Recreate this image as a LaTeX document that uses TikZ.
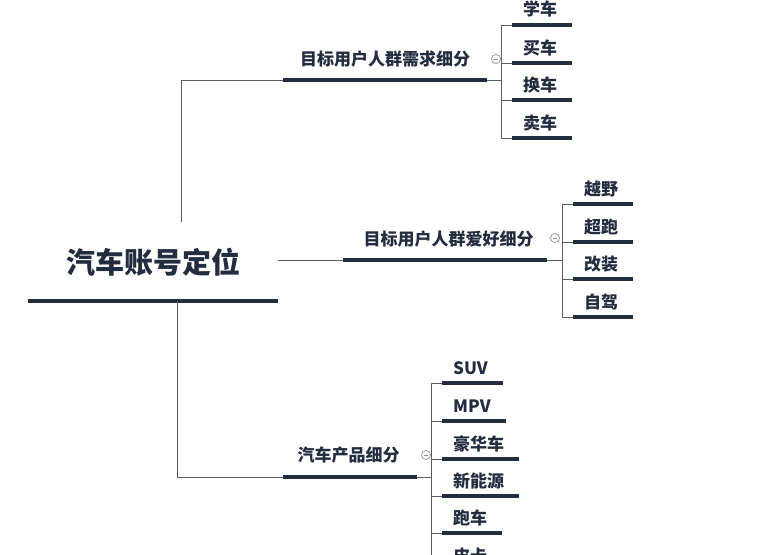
\documentclass[tikz,border=0pt]{standalone}
\usepackage{fontspec}
\newfontfamily\cjk{Noto Sans CJK SC}
\definecolor{navy}{HTML}{222D3F}
\definecolor{conngray}{HTML}{5A5F66}
\definecolor{collgray}{HTML}{8A8F96}
\tikzset{
  under/.style={line width=3.6pt, draw=navy},
  conn/.style={line width=0.9pt, draw=conngray},
  roottxt/.style={font=\cjk\bfseries\fontsize{29}{29}\selectfont, text=navy, inner sep=0pt},
  brtxt/.style={font=\cjk\bfseries\fontsize{17}{17}\selectfont, text=navy, inner sep=0pt},
  coll/.style={circle, draw=collgray, line width=0.7pt, minimum size=9pt, inner sep=0pt, fill=white}
}
\begin{document}
\begin{tikzpicture}[x=1pt,y=-1pt]
\useasboundingbox (0,0) rectangle (783,554);
\clip (0,0) rectangle (783,554);
\fill[white] (0,0) rectangle (783,554);

% root
\node[roottxt, anchor=base] (root) at (153.5,273) {汽车账号定位};
\coordinate (rootL) at (28,301);
\coordinate (rootR) at (278,301);
\draw[under] (rootL) -- (rootR);
\coordinate (rootTop) at (181,222);
\coordinate (rootRight) at (278,260);
\coordinate (rootBot) at (177,301);

% branch 1
\coordinate (b1a) at (283,80);
\coordinate (b1b) at (487,80);
\node[brtxt, anchor=base] (b1) at (385,65) {目标用户人群需求细分};
\draw[conn] (rootTop) |- (b1a);
\draw[under] (b1a) -- (b1b);
\coordinate (v1top) at (501,25);
\coordinate (v1bot) at (501,138);
\draw[conn] (b1b) -- (b1b -| v1top);
\draw[conn] (v1top) -- (v1bot);
\node[coll] (k1) at (496,59) {};
\draw[collgray, line width=0.6pt] ([xshift=-2.2pt]k1.center) -- ([xshift=2.2pt]k1.center);
\foreach \t/\u [count=\i] in {学车/25, 买车/63, 换车/100, 卖车/138}{
  \node[brtxt, anchor=base west] (c1\i) at (523,\u-9) {\t};
  \coordinate (c1s\i) at (512,\u);
  \coordinate (c1e\i) at (572,\u);
  \draw[conn] (v1top |- c1s\i) -- (c1s\i);
  \draw[under] (c1s\i) -- (c1e\i);
}

% branch 2
\coordinate (b2a) at (343,260);
\coordinate (b2b) at (547,260);
\node[brtxt, anchor=base] (b2) at (448.5,245) {目标用户人群爱好细分};
\draw[conn] (rootRight) -- (b2a);
\draw[under] (b2a) -- (b2b);
\coordinate (v2top) at (562,204);
\coordinate (v2bot) at (562,317);
\draw[conn] (b2b) -- (b2b -| v2top);
\draw[conn] (v2top) -- (v2bot);
\node[coll] (k2) at (555,238) {};
\draw[collgray, line width=0.6pt] ([xshift=-2.2pt]k2.center) -- ([xshift=2.2pt]k2.center);
\foreach \t/\u [count=\i] in {越野/204, 超跑/242, 改装/279, 自驾/317}{
  \node[brtxt, anchor=base west] (c2\i) at (584,\u-9) {\t};
  \coordinate (c2s\i) at (573,\u);
  \coordinate (c2e\i) at (633,\u);
  \draw[conn] (v2top |- c2s\i) -- (c2s\i);
  \draw[under] (c2s\i) -- (c2e\i);
}

% branch 3
\coordinate (b3a) at (283,477);
\coordinate (b3b) at (417,477);
\node[brtxt, anchor=base] (b3) at (348.5,461) {汽车产品细分};
\draw[conn] (rootBot) |- (b3a);
\draw[under] (b3a) -- (b3b);
\coordinate (v3top) at (431,383);
\coordinate (v3bot) at (431,600);
\draw[conn] (b3b) -- (b3b -| v3top);
\draw[conn] (v3top) -- (v3bot);
\node[coll] (k3) at (426,455) {};
\draw[collgray, line width=0.6pt] ([xshift=-2.2pt]k3.center) -- ([xshift=2.2pt]k3.center);
\foreach \t/\u [count=\i] in {SUV/383, MPV/421, 豪华车/459, 新能源/496, 跑车/533, 皮卡/571}{
  \node[brtxt, anchor=base west] (c3\i) at (453,\u-9) {\t};
  \coordinate (c3s\i) at (442,\u);
  \draw[conn] (v3top |- c3s\i) -- (c3s\i);
  \draw[under] (c3s\i) -- ([xshift=15pt]c3s\i -| c3\i.east);
}
\end{tikzpicture}
\end{document}
